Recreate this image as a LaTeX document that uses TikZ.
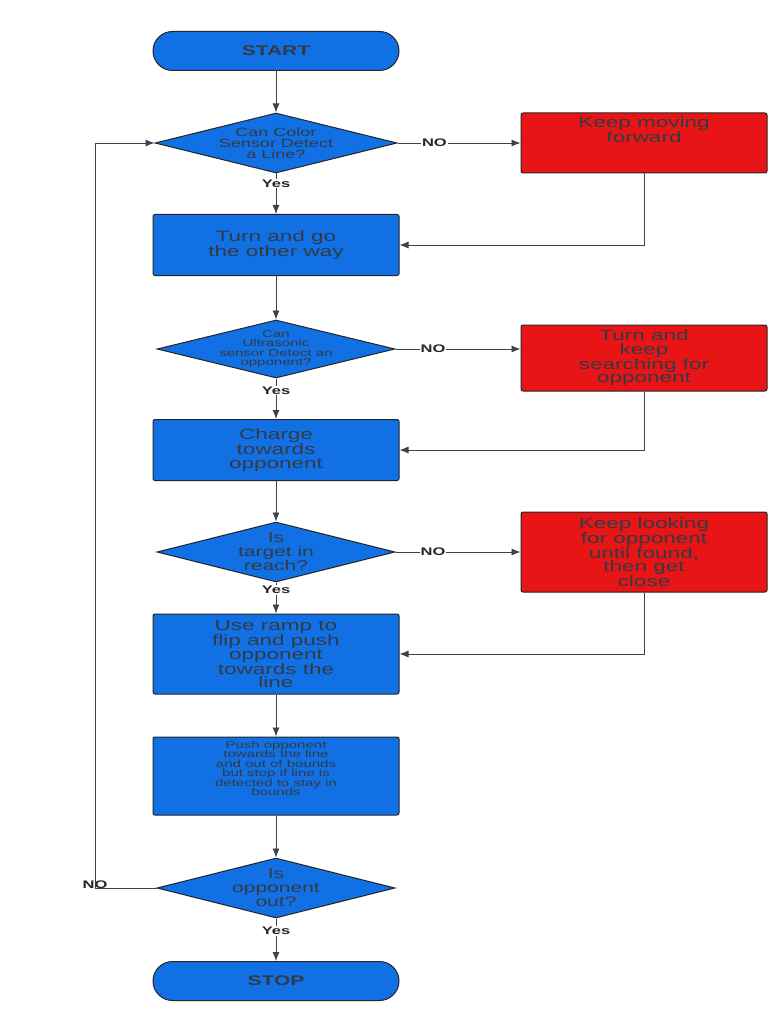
\documentclass[tikz,border=0pt]{standalone}
\usepackage{fontspec}
\setmainfont{Liberation Sans}
\usetikzlibrary{shapes.geometric,arrows.meta}
\definecolor{bl}{HTML}{1170E4}
\definecolor{rd}{HTML}{E81416}
\definecolor{tx}{HTML}{333A44}
\definecolor{ln}{HTML}{3A4250}
\newcommand\W[1]{\scalebox{1.5}[1]{#1}}
\begin{document}
\begin{tikzpicture}[x=1pt,y=-1pt,
 base/.style={draw=black!85,line width=1pt,text=tx,align=center,inner sep=0pt},
 box/.style={base,rectangle,rounded corners=2pt,fill=bl,minimum width=246,font=\fontsize{15}{13.5}\selectfont},
 rbox/.style={box,fill=rd},
 term/.style={base,fill=bl,rounded corners=19.5pt,minimum width=246,minimum height=39,font=\bfseries\fontsize{14}{14}\selectfont},
 dia/.style={base,fill=bl,diamond,aspect=4,minimum width=242,minimum height=60},
 dt/.style={text=tx,align=center,inner sep=0pt,font=\fontsize{12}{11}\selectfont},
 ar/.style={draw=ln,line width=0.8pt,-{Latex[length=9pt,width=7pt]}},
 lab/.style={text=black!85,font=\bfseries\fontsize{11}{11}\selectfont,fill=white,inner sep=1pt}]
\useasboundingbox (0,0) rectangle (768,1024);
\fill[white] (0,0) rectangle (768,1024);
\node[term] (start) at (276,51) {\W{START}};
\node[dia] (d1) at (276,143) {};
\node[dt] at (d1) {\W{Can Color}\\\W{Sensor Detect}\\\W{a Line?}};
\node[rbox,minimum height=60] (r1) at (644,143) {\W{Keep moving}\\\W{forward}\\[14pt]};
\node[box,minimum height=61] (b1) at (276,245) {\W{Turn and go}\\\W{the other way}};
\node[dia,minimum width=238,minimum height=58] (d2) at (276,349) {};
\node[dt,font=\fontsize{10}{9.5}\selectfont] at (d2) {\W{Can}\\\W{Ultrasonic}\\\W{sensor Detect an}\\\W{opponent?}};
\node[rbox,minimum height=66] (r2) at (644,358) {\W{Turn and}\\\W{keep}\\\W{searching for}\\\W{opponent}};
\node[box,minimum height=61] (b2) at (276,450) {\W{Charge}\\\W{towards}\\\W{opponent}};
\node[dia,minimum width=238] (d3) at (276,552) {};
\node[dt,font=\fontsize{14}{14}\selectfont] at (d3) {\W{Is}\\\W{target in}\\\W{reach?}};
\node[rbox,minimum height=80] (r3) at (644,552) {\W{Keep looking}\\\W{for opponent}\\\W{until found,}\\\W{then get}\\\W{close}};
\node[box,minimum height=80] (b3) at (276,654) {\W{Use ramp to}\\\W{flip and push}\\\W{opponent}\\\W{towards the}\\\W{line}};
\node[box,minimum height=78,font=\fontsize{10}{9.5}\selectfont] (b4) at (276,776) {\W{Push opponent}\\\W{towards the line}\\\W{and out of bounds}\\\W{but stop if line is}\\\W{detected to stay in}\\\W{bounds}\\[6pt]};
\node[dia,minimum width=238] (d4) at (276,888) {};
\node[dt,font=\fontsize{14}{14}\selectfont] at (d4) {\W{Is}\\\W{opponent}\\\W{out?}};
\node[term] (stop) at (276,981) {\W{STOP}};
\coordinate (c1) at (644,245);
\coordinate (l1) at (95,888);
\coordinate (l2) at (95,143);
\draw[ar] (start) -- (d1);
\draw[ar] (d1) -- node[lab,pos=0.25]{\W{Yes}} (b1);
\draw[ar] (b1) -- (d2);
\draw[ar] (d2) -- node[lab,pos=0.3]{\W{Yes}} (b2);
\draw[ar] (b2) -- (d3);
\draw[ar] (d3) -- node[lab,pos=0.25]{\W{Yes}} (b3);
\draw[ar] (b3) -- (b4);
\draw[ar] (b4) -- (d4);
\draw[ar] (d4) -- node[lab,pos=0.3]{\W{Yes}} (stop);
\draw[ar] (d1.east) -- node[lab,pos=0.3]{\W{NO}} (r1.west);
\draw[ar] (d2.east) -- node[lab,pos=0.3]{\W{NO}} (r2.west|-d2.east);
\draw[ar] (d3.east) -- node[lab,pos=0.3]{\W{NO}} (r3.west);
\draw[ar] (r1.south) |- (b1.east);
\draw[ar] (r2.south) |- (b2.east);
\draw[ar] (r3.south) |- (b3.east);
\draw[ar] (d4.west) -- (l1) -- (l2) -- (d1.west);
\node[lab,fill=none] at (95,885) {\W{NO}};
\end{tikzpicture}
\end{document}
